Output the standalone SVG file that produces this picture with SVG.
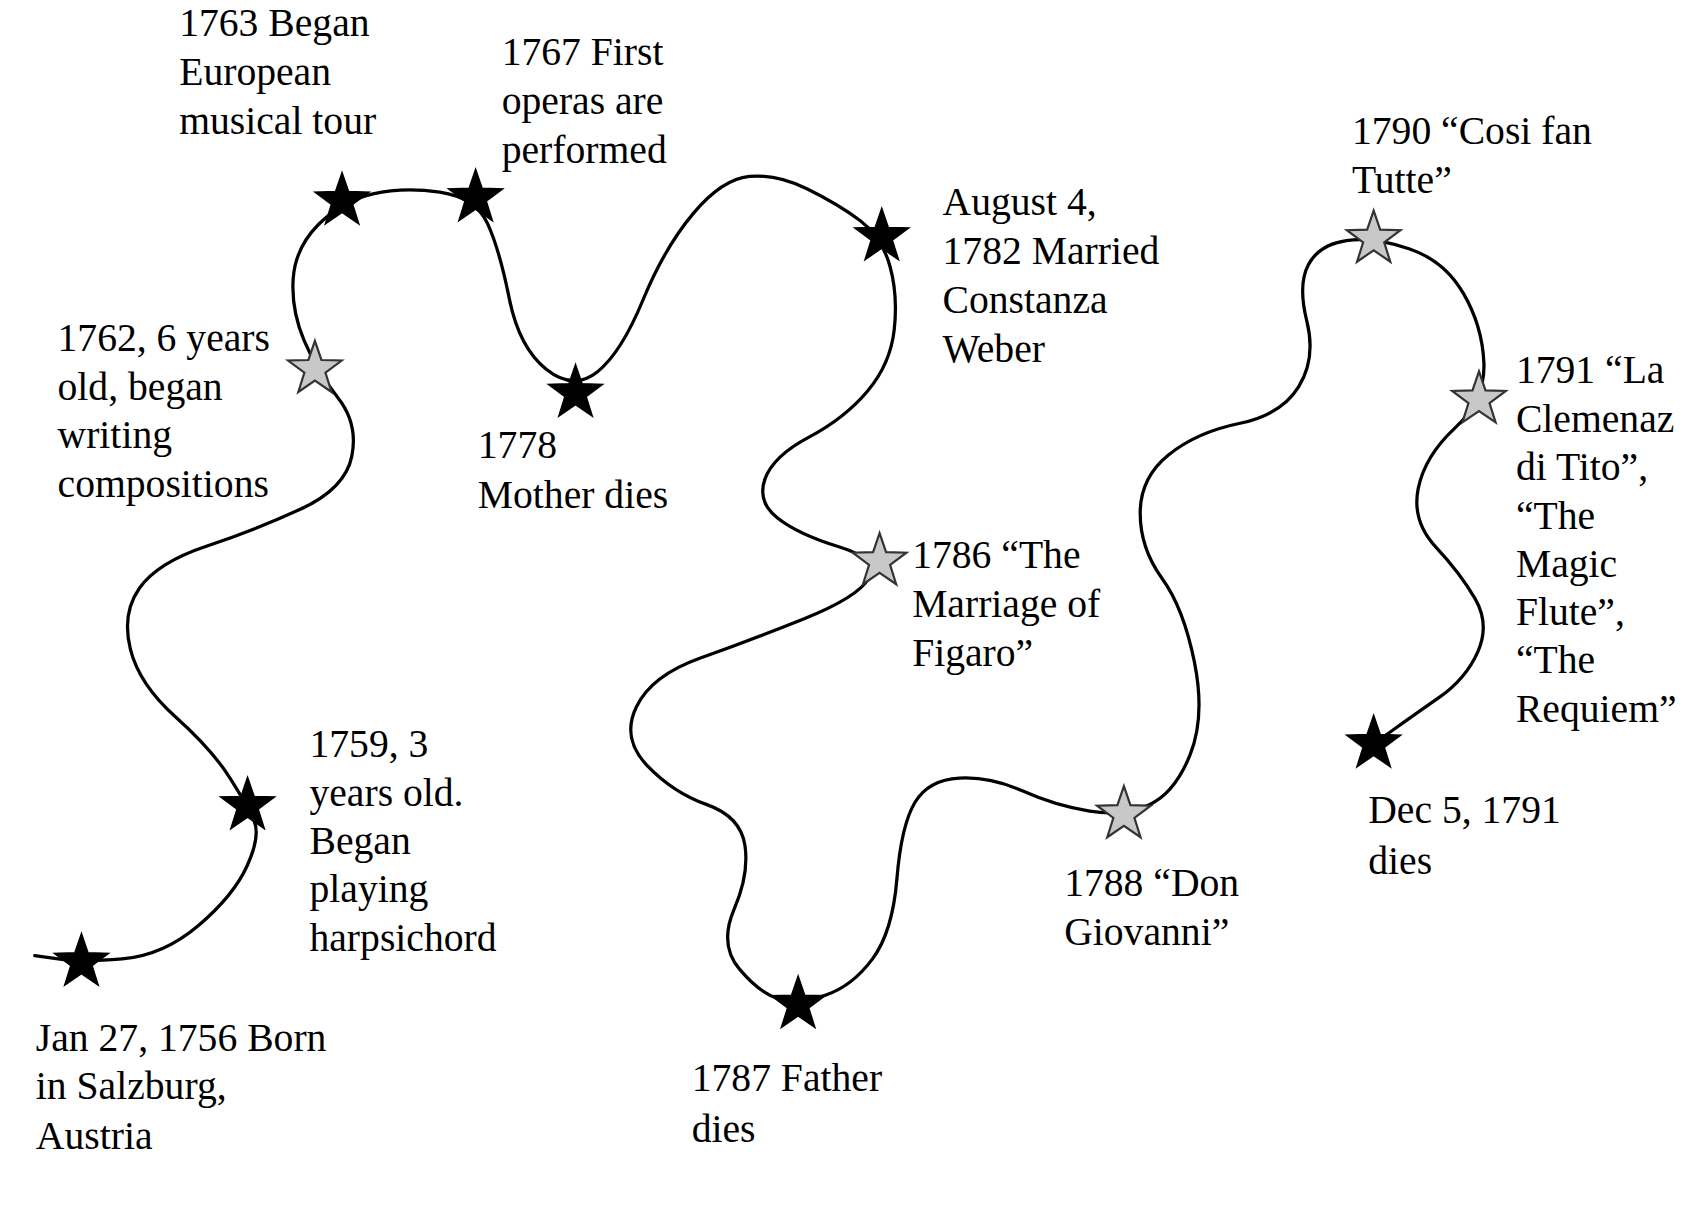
<svg xmlns="http://www.w3.org/2000/svg" xmlns:xlink="http://www.w3.org/1999/xlink" width="1694" height="1223" viewBox="0 0 1694 1223">
<style>
text{font-family:"Liberation Serif","Times New Roman",serif;font-size:36.5px;fill:#000}
.line{fill:none;stroke:#000;stroke-width:3;stroke-linecap:round}
.b{fill:#000;stroke:#000;stroke-width:1.5}
.g{fill:#c8c8c8;stroke:#333;stroke-width:2}
</style>
<defs>
<polygon id="star" points="0,-26 6,-8.5 24.7,-8 9.7,3.2 15.3,21 0,10.5 -15.3,21 -9.7,3.2 -24.7,-8 -6,-8.5"/>
</defs>
<rect width="1694" height="1223" fill="#fff"/>
<g transform="scale(1.0859)">
<g id="connectors">
<path class="line" d="M32,880 L53.5,883 Q75,886 112.5,883 Q150,880 182.5,852.5 Q215,825 227.5,797.5 Q240,770 234,756 Q228,742 211.5,716 Q195,690 161.5,660 Q128,630 120,597.5 Q112,565 128.5,541.5 Q145,518 190,503 Q235,488 276.5,469 Q318,450 324,420 Q330,390 311,366 Q292,342 280,313.5 Q268,285 270,256.5 Q272,228 293.5,206.5 Q315,185 343.5,178.5 Q372,172 405,177 Q438,182 449,206 Q460,230 469,275 Q478,320 503,340 Q528,360 550,342.5 Q572,325 592,276.5 Q612,228 638.5,196.5 Q665,165 690,162.5 Q715,160 743.5,174 Q772,188 792,203 Q812,218 819.5,245 Q827,272 823.5,303.5 Q820,335 799,360 Q778,385 745,402.5 Q712,420 704.5,441 Q697,462 716,477 Q735,492 772.5,503.5 Q810,515 800,532.5 Q790,550 740,570 Q690,590 645,606 Q600,622 586,651 Q572,680 596,705 Q620,730 651,741 Q682,752 686,778.5 Q690,805 676,837.5 Q662,870 681,892.5 Q700,915 717.5,920 Q735,925 760,916.5 Q785,908 803.5,883 Q822,858 826,809 Q830,760 842.5,739 Q855,718 883.5,716.5 Q912,715 942,728.5 Q972,742 1003.5,747 Q1035,752 1058.5,741 Q1082,730 1096,695 Q1110,660 1100,610 Q1090,560 1070,532.5 Q1050,505 1050,472.5 Q1050,440 1076,419 Q1102,398 1141,390 Q1180,382 1196,356 Q1212,330 1203.5,296 Q1195,262 1205,243.5 Q1215,225 1240,221.5 Q1265,218 1297.5,229 Q1330,240 1347.5,270 Q1365,300 1366.5,334 Q1368,368 1340,394 Q1312,420 1306,450 Q1300,480 1322.5,504 Q1345,528 1358.5,551.5 Q1372,575 1361,600 Q1350,625 1325,642.5 Q1300,660 1282.5,672.5 L1265,685"/>
</g>
<g id="n1756"><use href="#star" class="b" x="75" y="886"/><text x="33" y="968">Jan 27, 1756 Born</text><text x="33" y="1012">in Salzburg,</text><text x="33" y="1058">Austria</text></g>
<g id="n1759"><use href="#star" class="b" x="228" y="742"/><text x="285" y="697">1759, 3</text><text x="285" y="742">years old.</text><text x="285" y="786">Began</text><text x="285" y="831">playing</text><text x="285" y="876">harpsichord</text></g>
<g id="n1762"><use href="#star" class="g" x="290" y="340"/><text x="53" y="323">1762, 6 years</text><text x="53" y="368">old, began</text><text x="53" y="413">writing</text><text x="53" y="458">compositions</text></g>
<g id="n1763"><use href="#star" class="b" x="315" y="185"/><text x="165" y="33">1763 Began</text><text x="165" y="78">European</text><text x="165" y="123">musical tour</text></g>
<g id="n1767"><use href="#star" class="b" x="438" y="182"/><text x="462" y="60">1767 First</text><text x="462" y="105">operas are</text><text x="462" y="150">performed</text></g>
<g id="n1778"><use href="#star" class="b" x="530" y="362"/><text x="440" y="422">1778</text><text x="440" y="468">Mother dies</text></g>
<g id="n1782"><use href="#star" class="b" x="812" y="218"/><text x="868" y="198">August 4,</text><text x="868" y="243">1782 Married</text><text x="868" y="288">Constanza</text><text x="868" y="333">Weber</text></g>
<g id="n1786"><use href="#star" class="g" x="810" y="517"/><text x="840" y="523">1786 “The</text><text x="840" y="568">Marriage of</text><text x="840" y="613">Figaro”</text></g>
<g id="n1787"><use href="#star" class="b" x="735" y="925"/><text x="637" y="1005">1787 Father</text><text x="637" y="1052">dies</text></g>
<g id="n1788"><use href="#star" class="g" x="1035" y="750"/><text x="980" y="825">1788 “Don</text><text x="980" y="870">Giovanni”</text></g>
<g id="n1790"><use href="#star" class="g" x="1265" y="220"/><text x="1245" y="133">1790 “Cosi fan</text><text x="1245" y="178">Tutte”</text></g>
<g id="n1791"><use href="#star" class="g" x="1362" y="368"/><text x="1396" y="353">1791 “La</text><text x="1396" y="398">Clemenaz</text><text x="1396" y="442">di Tito”,</text><text x="1396" y="487">“The</text><text x="1396" y="531">Magic</text><text x="1396" y="576">Flute”,</text><text x="1396" y="620">“The</text><text x="1396" y="665">Requiem”</text></g>
<g id="nDeath"><use href="#star" class="b" x="1265" y="685"/><text x="1260" y="758">Dec 5, 1791</text><text x="1260" y="805">dies</text></g>
</g>
</svg>
